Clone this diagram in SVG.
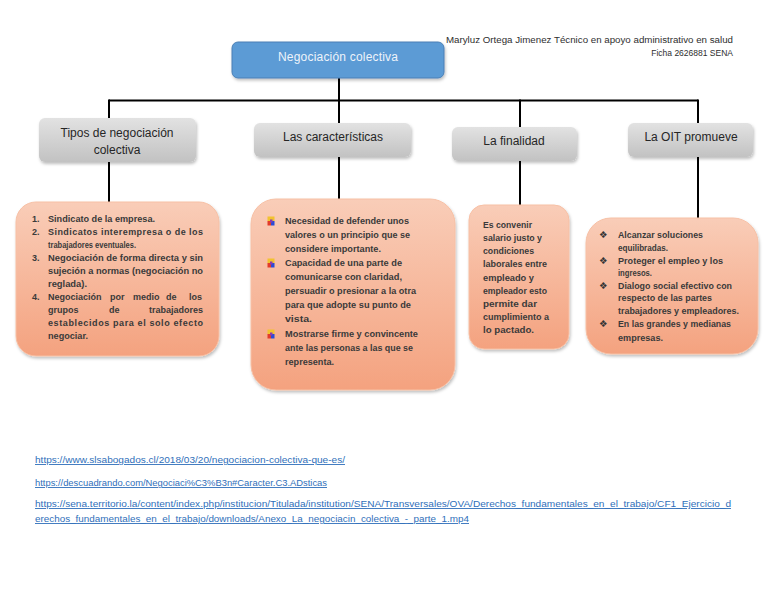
<svg xmlns="http://www.w3.org/2000/svg" width="768" height="594" viewBox="0 0 768 594">
<defs>
<linearGradient id="gGray" x1="0" y1="0" x2="0" y2="1">
<stop offset="0" stop-color="#e2e2e2"/><stop offset="1" stop-color="#c2c2c2"/>
</linearGradient>
<linearGradient id="gSal" x1="0" y1="0" x2="0" y2="1">
<stop offset="0" stop-color="#f9cdb8"/><stop offset="1" stop-color="#f4a27f"/>
</linearGradient>
<filter id="sh" x="-10%" y="-10%" width="125%" height="130%">
<feDropShadow dx="1" dy="2" stdDeviation="1.5" flood-color="#000" flood-opacity="0.25"/>
</filter>
<g id="pic">
<rect x="-3.5" y="-4.5" width="7" height="4.5" fill="#f2c230"/>
<rect x="-3.5" y="0" width="3.5" height="4.5" fill="#e23b2a"/>
<rect x="0" y="0" width="3.5" height="4.5" fill="#2a4bd6"/>
<rect x="-1" y="-1.5" width="2.5" height="3" fill="#8a3bb0"/>
</g>
</defs>
<style>
.hdr{font-family:"Liberation Sans",Arial,sans-serif;font-size:12px;fill:#262626;text-anchor:middle}
.bt{font-family:"Liberation Sans",Arial,sans-serif;font-size:9px;font-weight:bold;fill:#3a3a3a}
.au{font-family:"Liberation Sans",Arial,sans-serif;font-size:8.5px;fill:#2e2e2e}
.lk{font-family:"Liberation Sans",Arial,sans-serif;font-size:9px;fill:#2f6fba;text-decoration:underline}
.ln{stroke:#000;stroke-width:2;fill:none}
.gray{fill:url(#gGray);filter:url(#sh)}
.sal{fill:url(#gSal);stroke:#f7c0a5;stroke-width:1;filter:url(#sh)}
.dia{font-family:"DejaVu Sans",sans-serif;font-size:9.5px;fill:#333}
</style>
<rect width="768" height="594" fill="#ffffff"/>

<g id="connectors">
<path class="ln" d="M339 78 V123"/>
<path class="ln" d="M109 100.5 H698"/>
<path class="ln" d="M109 99.5 V118"/>
<path class="ln" d="M520 99.5 V127"/>
<path class="ln" d="M698 99.5 V123"/>
<path class="ln" d="M109 162 V202"/>
<path class="ln" d="M339 157 V199"/>
<path class="ln" d="M520 161 V205"/>
<path class="ln" d="M698 157 V218"/>
</g>

<g id="author">
<text class="au" x="446" y="43" textLength="287" lengthAdjust="spacingAndGlyphs">Maryluz Ortega Jimenez Técnico en apoyo administrativo en salud</text>
<text class="au" x="733" y="56" text-anchor="end">Ficha 2626881 SENA</text>
</g>

<g id="root">
<rect x="232" y="42" width="212" height="36" rx="6" fill="#5b9bd5" stroke="#4a7fb5" stroke-width="1" filter="url(#sh)"/>
<text x="338" y="61" font-family="Liberation Sans,Arial,sans-serif" font-size="12" fill="#eef3fa" text-anchor="middle" textLength="120" lengthAdjust="spacing">Negociación colectiva</text>
</g>

<g id="tipos">
<rect class="gray" x="39" y="118" width="157" height="44" rx="6"/>
<text class="hdr" x="117" y="137">Tipos de negociación</text>
<text class="hdr" x="117" y="154">colectiva</text>
</g>
<g id="caracteristicas">
<rect class="gray" x="254" y="123" width="157" height="34" rx="6"/>
<text class="hdr" x="333" y="141">Las características</text>
</g>
<g id="finalidad">
<rect class="gray" x="452" y="127" width="125" height="34" rx="6"/>
<text class="hdr" x="514" y="145">La finalidad</text>
</g>
<g id="oit">
<rect class="gray" x="628" y="123" width="125" height="34" rx="6"/>
<text class="hdr" x="691" y="141">La OIT promueve</text>
</g>

<g id="box-tipos">
<rect class="sal" x="16" y="202" width="203" height="154" rx="20"/>
<text class="bt" x="32" y="222">1.</text>
<text class="bt" x="48" y="222" textLength="107" lengthAdjust="spacingAndGlyphs">Sindicato de la empresa.</text>
<text class="bt" x="32" y="235">2.</text>
<text class="bt" x="48" y="235" textLength="155" lengthAdjust="spacing">Sindicatos interempresa o de los</text>
<text class="bt" x="48" y="248" textLength="88" lengthAdjust="spacingAndGlyphs">trabajadores eventuales.</text>
<text class="bt" x="32" y="261">3.</text>
<text class="bt" x="48" y="261" textLength="155" lengthAdjust="spacingAndGlyphs">Negociación de forma directa y sin</text>
<text class="bt" x="48" y="274" textLength="155" lengthAdjust="spacingAndGlyphs">sujeción a normas (negociación no</text>
<text class="bt" x="48" y="287" textLength="39" lengthAdjust="spacingAndGlyphs">reglada).</text>
<text class="bt" x="32" y="300">4.</text>
<text class="bt" y="300"><tspan x="48">Negociación</tspan><tspan x="110">por</tspan><tspan x="133">medio</tspan><tspan x="166">de</tspan><tspan x="189">los</tspan></text>
<text class="bt" y="313"><tspan x="48">grupos</tspan><tspan x="109">de</tspan><tspan x="203" text-anchor="end">trabajadores</tspan></text>
<text class="bt" x="48" y="326" textLength="155" lengthAdjust="spacing">establecidos para el solo efecto</text>
<text class="bt" x="48" y="339" textLength="40" lengthAdjust="spacingAndGlyphs">negociar.</text>
</g>

<g id="box-caracteristicas">
<rect class="sal" x="251" y="199" width="204" height="191" rx="25"/>
<use href="#pic" x="271" y="221"/>
<use href="#pic" x="271" y="263"/>
<use href="#pic" x="271" y="334"/>
<text class="bt" x="285" y="224" textLength="124" lengthAdjust="spacingAndGlyphs">Necesidad de defender unos</text>
<text class="bt" x="285" y="238" textLength="125" lengthAdjust="spacingAndGlyphs">valores o un principio que se</text>
<text class="bt" x="285" y="252" textLength="96" lengthAdjust="spacingAndGlyphs">considere importante.</text>
<text class="bt" x="285" y="266" textLength="117" lengthAdjust="spacingAndGlyphs">Capacidad de una parte de</text>
<text class="bt" x="285" y="280" textLength="117" lengthAdjust="spacingAndGlyphs">comunicarse con claridad,</text>
<text class="bt" x="285" y="294" textLength="131" lengthAdjust="spacingAndGlyphs">persuadir o presionar a la otra</text>
<text class="bt" x="285" y="308" textLength="126" lengthAdjust="spacingAndGlyphs">para que adopte su punto de</text>
<text class="bt" x="285" y="322" textLength="27" lengthAdjust="spacingAndGlyphs">vista.</text>
<text class="bt" x="285" y="337" textLength="133" lengthAdjust="spacingAndGlyphs">Mostrarse firme y convincente</text>
<text class="bt" x="285" y="351" textLength="128" lengthAdjust="spacingAndGlyphs">ante las personas a las que se</text>
<text class="bt" x="285" y="365" textLength="49" lengthAdjust="spacingAndGlyphs">representa.</text>
</g>

<g id="box-finalidad">
<rect class="sal" x="469" y="205" width="100" height="144" rx="15"/>
<text class="bt" x="483" y="228" textLength="49" lengthAdjust="spacingAndGlyphs">Es convenir</text>
<text class="bt" x="483" y="241" textLength="59" lengthAdjust="spacingAndGlyphs">salario justo y</text>
<text class="bt" x="483" y="254" textLength="51" lengthAdjust="spacingAndGlyphs">condiciones</text>
<text class="bt" x="483" y="267" textLength="64" lengthAdjust="spacingAndGlyphs">laborales entre</text>
<text class="bt" x="483" y="281" textLength="51" lengthAdjust="spacingAndGlyphs">empleado y</text>
<text class="bt" x="483" y="294" textLength="64" lengthAdjust="spacingAndGlyphs">empleador esto</text>
<text class="bt" x="483" y="307" textLength="54" lengthAdjust="spacingAndGlyphs">permite dar</text>
<text class="bt" x="483" y="320" textLength="66" lengthAdjust="spacingAndGlyphs">cumplimiento a</text>
<text class="bt" x="483" y="333" textLength="51" lengthAdjust="spacingAndGlyphs">lo pactado.</text>
</g>

<g id="box-oit">
<rect class="sal" x="586" y="218" width="172" height="136" rx="25"/>
<text class="dia" x="599" y="238">❖</text>
<text class="dia" x="599" y="264">❖</text>
<text class="dia" x="599" y="289">❖</text>
<text class="dia" x="599" y="327">❖</text>
<text class="bt" x="618" y="238" textLength="85" lengthAdjust="spacingAndGlyphs">Alcanzar soluciones</text>
<text class="bt" x="618" y="251" textLength="50" lengthAdjust="spacingAndGlyphs">equilibradas.</text>
<text class="bt" x="618" y="264" textLength="105" lengthAdjust="spacingAndGlyphs">Proteger el empleo y los</text>
<text class="bt" x="618" y="276" textLength="34" lengthAdjust="spacingAndGlyphs">ingresos.</text>
<text class="bt" x="618" y="289" textLength="114" lengthAdjust="spacingAndGlyphs">Dialogo social efectivo con</text>
<text class="bt" x="618" y="301" textLength="94" lengthAdjust="spacingAndGlyphs">respecto de las partes</text>
<text class="bt" x="618" y="314" textLength="121" lengthAdjust="spacingAndGlyphs">trabajadores y empleadores.</text>
<text class="bt" x="618" y="327" textLength="113" lengthAdjust="spacingAndGlyphs">En las grandes y medianas</text>
<text class="bt" x="618" y="341" textLength="45" lengthAdjust="spacingAndGlyphs">empresas.</text>
</g>

<g id="links">
<text class="lk" x="35" y="463" textLength="310" lengthAdjust="spacingAndGlyphs">https://www.slsabogados.cl/2018/03/20/negociacion-colectiva-que-es/</text>
<text class="lk" x="35" y="486" textLength="292" lengthAdjust="spacingAndGlyphs">https://descuadrando.com/Negociaci%C3%B3n#Caracter.C3.ADsticas</text>
<text class="lk" x="35" y="507" textLength="696" lengthAdjust="spacingAndGlyphs">https://sena.territorio.la/content/index.php/institucion/Titulada/institution/SENA/Transversales/OVA/Derechos_fundamentales_en_el_trabajo/CF1_Ejercicio_d</text>
<text class="lk" x="35" y="522" textLength="434" lengthAdjust="spacingAndGlyphs">erechos_fundamentales_en_el_trabajo/downloads/Anexo_La_negociacin_colectiva_-_parte_1.mp4</text>
</g>
</svg>
